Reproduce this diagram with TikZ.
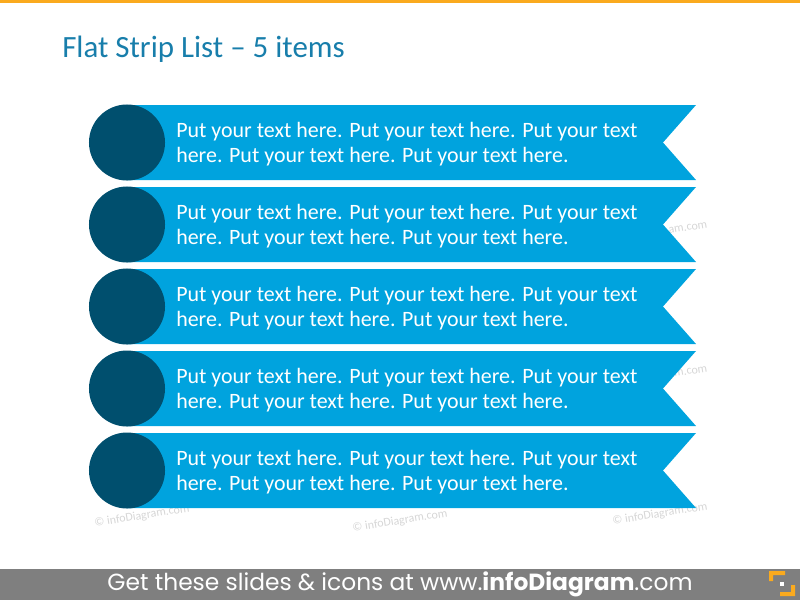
\documentclass[tikz,border=0pt]{standalone}
\usepackage{fontspec}
\setmainfont{Carlito}
\newfontfamily\barfont{Poppins}
\usepackage{xcolor}
\definecolor{stripblue}{RGB}{0,163,222}
\definecolor{circleteal}{RGB}{0,79,110}
\definecolor{titleblue}{RGB}{24,126,171}
\definecolor{barorange}{RGB}{250,170,30}
\definecolor{bargray}{RGB}{127,127,127}
\definecolor{markgray}{RGB}{214,214,214}
\tikzset{
	strip/.style={fill=stripblue},
	bullet/.style={circle,fill=circleteal,minimum size=1.9cm,inner sep=0},
	itemtext/.style={text=white,align=left,anchor=west,inner sep=0,font=\fontsize{15.6}{17.7}\selectfont},
	wmark/.style={text=markgray,rotate=9,inner sep=0,font=\fontsize{8.5}{10}\selectfont}
}

\begin{document}
\begin{tikzpicture}[x=0.025cm,y=-0.025cm]
	\useasboundingbox (0,0) rectangle (800,600);
	\fill[barorange] (0,0) rectangle (800,3);
	\node(title) at (62,57)[anchor=base west,text=titleblue,inner sep=0,font=\fontsize{22}{26}\selectfont]{Flat Strip List – 5 items};

	% watermarks, the right two only peep out past the notches
	\node(w1) at (142,516)[wmark]{© infoDiagram.com};
	\node(w2) at (400,521)[wmark]{© infoDiagram.com};
	\node(w3) at (660,514)[wmark]{© infoDiagram.com};
	\node(w4) at (708,228)[wmark,anchor=south east]{am.com};
	\node(w5) at (708,372)[wmark,anchor=south east]{m.com};

	\fill[strip] (127,105) -- (696,105) -- (663,142.5) -- (696,180) -- (127,180) -- cycle;
	\fill[strip] (127,187) -- (696,187) -- (663,224.5) -- (696,262) -- (127,262) -- cycle;
	\fill[strip] (127,269) -- (696,269) -- (663,306.5) -- (696,344) -- (127,344) -- cycle;
	\fill[strip] (127,351) -- (696,351) -- (663,388.5) -- (696,426) -- (127,426) -- cycle;
	\fill[strip] (127,433) -- (696,433) -- (663,470.5) -- (696,508) -- (127,508) -- cycle;

	\node(c1) at (127,142.5)[bullet]{};
	\node(c2) at (127,224.5)[bullet]{};
	\node(c3) at (127,306.5)[bullet]{};
	\node(c4) at (127,388.5)[bullet]{};
	\node(c5) at (127,470.5)[bullet]{};

	\node(t1) at (176,144)[itemtext]{Put your text here. Put your text here. Put your text\\here. Put your text here. Put your text here.};
	\node(t2) at (176,226)[itemtext]{Put your text here. Put your text here. Put your text\\here. Put your text here. Put your text here.};
	\node(t3) at (176,308)[itemtext]{Put your text here. Put your text here. Put your text\\here. Put your text here. Put your text here.};
	\node(t4) at (176,390)[itemtext]{Put your text here. Put your text here. Put your text\\here. Put your text here. Put your text here.};
	\node(t5) at (176,472)[itemtext]{Put your text here. Put your text here. Put your text\\here. Put your text here. Put your text here.};

	% footer bar and logo
	\fill[bargray] (0,569) rectangle (800,600);
	\node(foot) at (400,584)[text=white,inner sep=0,font=\barfont\fontsize{16.6}{18}\selectfont]{Get these slides \& icons at www.\textbf{infoDiagram}.com};
	\fill[barorange] (769,571) rectangle (785,575) (769,571) rectangle (773,581);
	\fill[barorange] (791,585) rectangle (795,596) (780,592) rectangle (795,596);
	\fill[white] (780,582) rectangle (784,586);
\end{tikzpicture}
\end{document}
